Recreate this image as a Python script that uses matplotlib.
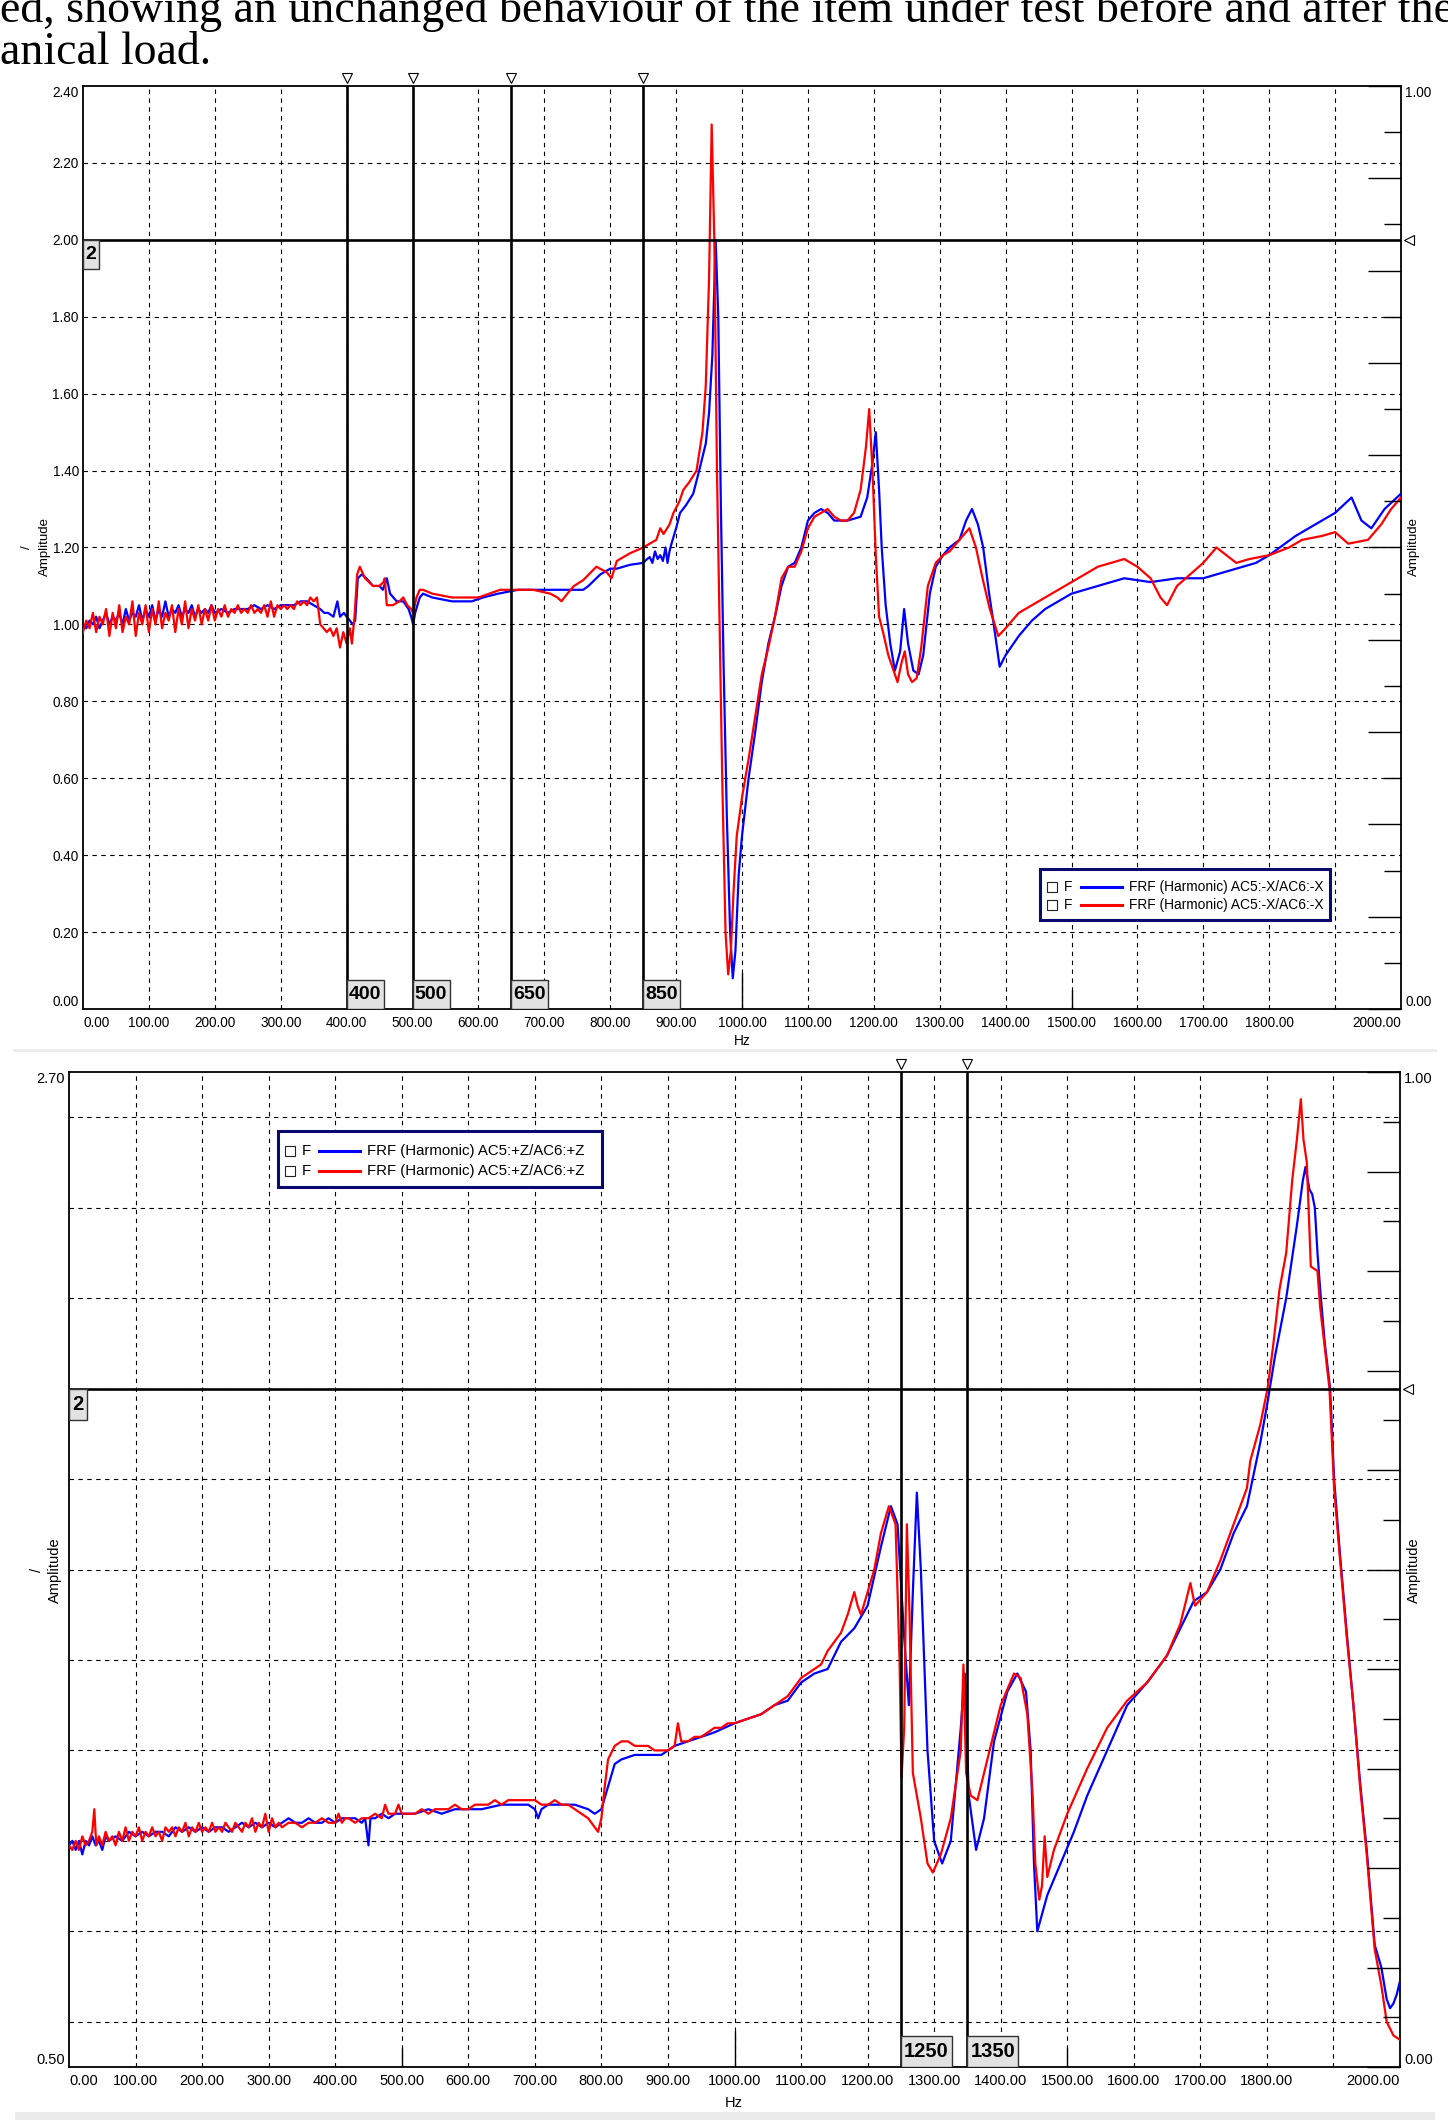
import numpy as np
import matplotlib
matplotlib.use('Agg')
import matplotlib.pyplot as plt
from matplotlib.patches import Rectangle
from matplotlib.lines import Line2D

# (Hz, amplitude)
top_blue = [(0,1.00),(5,.99),(10,1.01),(15,1.00),(20,1.02),(25,.99),(30,1.01),(35,1.03),(40,1.00),(45,1.02),(50,1.01),(55,1.03),(60,1.00),(65,1.04),(70,1.01),(75,1.03),(80,1.02),(85,1.05),(90,1.01),(95,1.04),(100,1.02),(105,1.05),(110,1.01),(115,1.04),(120,1.02),(125,1.06),(130,1.02),(135,1.04),(140,1.03),(145,1.05),(150,1.02),(155,1.04),(160,1.03),(165,1.05),(170,1.02),(175,1.04),(180,1.03),(185,1.04),(190,1.03),(195,1.05),(200,1.03),(210,1.04),(220,1.03),(230,1.04),(240,1.04),(250,1.04),(260,1.05),(270,1.04),(280,1.05),(290,1.04),(300,1.05),(310,1.05),(320,1.05),(330,1.06),(340,1.06),(350,1.05),(360,1.04),(366,1.03),(372,1.03),(380,1.02),(386,1.06),(390,1.02),(396,1.03),(400,1.02),(405,1.01),(409,1.00),(413,1.01),(417,1.12),(423,1.13),(430,1.12),(440,1.10),(450,1.10),(455,1.09),(461,1.12),(466,1.08),(476,1.06),(486,1.06),(494,1.04),(498,1.02),(501,1.00),(504,1.03),(511,1.07),(516,1.08),(530,1.07),(560,1.06),(590,1.06),(607,1.07),(630,1.08),(660,1.09),(690,1.09),(710,1.09),(730,1.09),(759,1.09),(767,1.10),(785,1.13),(800,1.145),(810,1.145),(830,1.155),(850,1.16),(856,1.17),(860,1.175),(864,1.16),(868,1.19),(872,1.17),(876,1.18),(880,1.165),(884,1.20),(887,1.16),(890,1.19),(893,1.21),(900,1.25),(906,1.29),(915,1.31),(926,1.34),(935,1.40),(945,1.47),(950,1.55),(955,1.70),(960,2.00),(964,1.80),(968,1.30),(972,.90),(977,.50),(982,.20),(986,.08),(990,.15),(995,.35),(1000,.45),(1010,.60),(1020,.72),(1030,.85),(1040,.95),(1050,1.02),(1060,1.10),(1070,1.15),(1080,1.16),(1090,1.20),(1100,1.27),(1110,1.29),(1120,1.30),(1130,1.29),(1140,1.27),(1160,1.27),(1180,1.28),(1190,1.33),(1198,1.42),(1203,1.50),(1208,1.35),(1212,1.20),(1218,1.05),(1225,.95),(1232,.88),(1240,.93),(1246,1.04),(1252,.95),(1260,.88),(1268,.87),(1275,.92),(1285,1.08),(1294,1.15),(1305,1.18),(1315,1.20),(1330,1.22),(1340,1.27),(1349,1.30),(1358,1.26),(1366,1.20),(1375,1.08),(1382,1.00),(1391,.89),(1400,.92),(1420,.97),(1440,1.01),(1460,1.04),(1480,1.06),(1500,1.08),(1540,1.10),(1580,1.12),(1620,1.11),(1660,1.12),(1700,1.12),(1740,1.14),(1780,1.16),(1800,1.18),(1840,1.23),(1870,1.26),(1900,1.29),(1925,1.33),(1940,1.27),(1955,1.25),(1975,1.30),(2000,1.34)]

top_red = [(0,.98),(5,1.01),(10,.99),(15,1.03),(20,.98),(25,1.02),(30,1.00),(35,1.04),(40,.97),(45,1.03),(50,.99),(55,1.05),(60,.98),(65,1.02),(70,1.00),(75,1.06),(80,.97),(85,1.03),(90,1.00),(95,1.05),(100,.98),(105,1.04),(110,1.00),(115,1.06),(120,.99),(125,1.03),(130,1.01),(135,1.05),(140,.98),(145,1.04),(150,1.00),(155,1.06),(160,.99),(165,1.04),(170,1.01),(175,1.05),(180,1.00),(185,1.04),(190,1.01),(195,1.05),(200,1.01),(205,1.04),(210,1.02),(215,1.05),(220,1.02),(225,1.04),(230,1.03),(235,1.05),(240,1.03),(245,1.04),(250,1.03),(255,1.05),(260,1.03),(265,1.04),(270,1.03),(275,1.05),(280,1.02),(285,1.06),(290,1.02),(295,1.05),(300,1.04),(305,1.05),(310,1.04),(315,1.05),(320,1.04),(325,1.06),(330,1.05),(335,1.06),(340,1.05),(345,1.07),(350,1.06),(355,1.07),(360,1.00),(365,.99),(370,.98),(375,.99),(380,.97),(385,.99),(390,.94),(395,.98),(400,.95),(405,.99),(408,.95),(412,1.02),(416,1.13),(420,1.15),(428,1.12),(440,1.10),(450,1.10),(456,1.11),(458,1.12),(461,1.05),(470,1.05),(480,1.06),(486,1.07),(492,1.05),(498,1.04),(501,1.03),(506,1.07),(511,1.09),(516,1.09),(530,1.08),(560,1.07),(600,1.07),(633,1.09),(683,1.09),(709,1.08),(720,1.07),(726,1.06),(735,1.08),(745,1.10),(759,1.115),(779,1.15),(790,1.14),(795,1.135),(802,1.12),(810,1.165),(830,1.185),(850,1.20),(870,1.22),(876,1.25),(881,1.235),(890,1.26),(896,1.29),(905,1.32),(911,1.35),(920,1.37),(931,1.40),(940,1.50),(945,1.62),(950,1.90),(954,2.30),(958,2.00),(962,1.40),(966,1.00),(970,.60),(975,.20),(979,.09),(983,.15),(987,.30),(992,.45),(1000,.55),(1010,.65),(1020,.76),(1030,.87),(1040,.94),(1050,1.02),(1060,1.12),(1070,1.15),(1080,1.15),(1090,1.19),(1100,1.25),(1110,1.28),(1120,1.29),(1130,1.30),(1140,1.28),(1150,1.27),(1160,1.27),(1170,1.29),(1180,1.35),(1188,1.46),(1193,1.56),(1198,1.40),(1203,1.18),(1208,1.02),(1214,.98),(1222,.92),(1230,.88),(1236,.85),(1242,.90),(1247,.93),(1252,.87),(1258,.85),(1265,.86),(1272,.94),(1282,1.10),(1294,1.16),(1305,1.18),(1315,1.19),(1325,1.21),(1335,1.23),(1345,1.25),(1355,1.20),(1365,1.12),(1376,1.04),(1389,.97),(1400,.99),(1420,1.03),(1440,1.05),(1460,1.07),(1480,1.09),(1500,1.11),(1520,1.13),(1540,1.15),(1560,1.16),(1580,1.17),(1600,1.15),(1620,1.12),(1635,1.07),(1645,1.05),(1660,1.10),(1680,1.13),(1700,1.16),(1720,1.20),(1735,1.18),(1750,1.16),(1770,1.17),(1800,1.18),(1830,1.20),(1850,1.22),(1880,1.23),(1900,1.24),(1920,1.21),(1950,1.22),(1970,1.26),(1985,1.30),(2000,1.33)]

bot_blue = [(0,.99),(5,1.00),(10,.98),(15,1.00),(20,.97),(25,1.00),(30,.99),(35,1.01),(40,.99),(45,1.00),(50,.98),(55,1.01),(60,1.00),(70,1.01),(80,1.00),(90,1.02),(100,1.01),(110,1.02),(120,1.01),(130,1.02),(140,1.02),(150,1.01),(160,1.03),(170,1.02),(180,1.03),(190,1.02),(200,1.03),(210,1.02),(220,1.03),(230,1.03),(240,1.02),(250,1.03),(260,1.04),(270,1.03),(280,1.04),(290,1.03),(300,1.04),(310,1.03),(320,1.04),(330,1.05),(340,1.04),(350,1.04),(360,1.05),(370,1.04),(380,1.04),(390,1.05),(400,1.04),(410,1.05),(420,1.05),(430,1.05),(440,1.04),(445,1.05),(450,.99),(453,1.05),(460,1.05),(470,1.06),(480,1.05),(490,1.06),(500,1.06),(520,1.06),(540,1.07),(560,1.06),(580,1.07),(600,1.07),(620,1.07),(650,1.08),(670,1.08),(690,1.08),(700,1.07),(705,1.05),(710,1.07),(720,1.08),(740,1.08),(760,1.08),(780,1.07),(790,1.06),(800,1.07),(810,1.12),(820,1.17),(830,1.18),(850,1.19),(870,1.19),(890,1.19),(910,1.21),(930,1.22),(950,1.23),(970,1.24),(1000,1.26),(1020,1.27),(1040,1.28),(1060,1.30),(1080,1.31),(1090,1.33),(1100,1.35),(1120,1.37),(1140,1.38),(1160,1.44),(1180,1.47),(1200,1.52),(1220,1.65),(1235,1.74),(1245,1.70),(1255,1.45),(1262,1.30),(1268,1.55),(1274,1.77),(1280,1.60),(1290,1.20),(1300,1.00),(1312,.95),(1325,1.00),(1340,1.25),(1346,1.37),(1352,1.10),(1363,.98),(1375,1.05),(1390,1.22),(1410,1.33),(1425,1.37),(1438,1.33),(1445,1.20),(1450,.95),(1455,.80),(1470,.88),(1490,.95),(1510,1.02),(1530,1.10),(1560,1.20),(1590,1.30),(1620,1.35),(1650,1.41),(1670,1.47),(1690,1.53),(1710,1.55),(1730,1.60),(1750,1.68),(1770,1.74),(1790,1.88),(1801,1.97),(1812,2.07),(1829,2.20),(1845,2.36),(1854,2.46),(1858,2.49),(1864,2.44),(1868,2.43),(1872,2.40),(1876,2.30),(1880,2.22),(1887,2.10),(1895,2.00),(1901,1.80),(1910,1.63),(1920,1.46),(1930,1.30),(1940,1.13),(1950,.98),(1962,.77),(1972,.72),(1980,.65),(1985,.63),(1990,.64),(1995,.66),(2000,.69)]

bot_red = [(0,.99),(5,.98),(10,1.00),(15,.98),(20,1.01),(25,.99),(30,1.00),(35,1.02),(38,1.07),(41,.99),(45,1.01),(50,.99),(55,1.02),(60,1.00),(65,1.01),(70,.99),(75,1.02),(80,1.00),(85,1.03),(90,1.00),(95,1.02),(100,1.01),(105,1.03),(110,1.00),(115,1.02),(120,1.01),(125,1.03),(130,1.01),(135,1.02),(140,1.00),(145,1.03),(150,1.02),(155,1.03),(160,1.01),(165,1.03),(170,1.02),(175,1.04),(180,1.01),(185,1.03),(190,1.02),(195,1.04),(200,1.02),(205,1.03),(210,1.02),(215,1.04),(220,1.02),(225,1.03),(230,1.02),(235,1.04),(240,1.03),(245,1.02),(250,1.04),(255,1.03),(260,1.02),(265,1.04),(270,1.03),(275,1.05),(280,1.02),(285,1.04),(290,1.03),(295,1.06),(300,1.02),(305,1.05),(310,1.03),(315,1.04),(320,1.03),(330,1.04),(340,1.04),(350,1.03),(360,1.04),(370,1.04),(380,1.05),(390,1.04),(400,1.04),(405,1.06),(410,1.04),(415,1.05),(420,1.05),(430,1.04),(440,1.05),(450,1.05),(460,1.06),(470,1.05),(475,1.08),(480,1.06),(490,1.06),(495,1.08),(500,1.06),(510,1.06),(520,1.06),(530,1.07),(540,1.06),(550,1.07),(560,1.07),(570,1.07),(580,1.08),(590,1.07),(600,1.07),(610,1.08),(620,1.08),(630,1.08),(640,1.09),(650,1.08),(660,1.09),(670,1.09),(680,1.09),(690,1.09),(700,1.09),(710,1.08),(720,1.08),(730,1.09),(740,1.08),(750,1.08),(760,1.07),(770,1.06),(780,1.05),(790,1.03),(795,1.02),(800,1.05),(805,1.12),(810,1.18),(820,1.21),(830,1.22),(840,1.22),(850,1.21),(860,1.21),(870,1.21),(880,1.20),(890,1.20),(900,1.20),(910,1.21),(915,1.26),(920,1.22),(930,1.22),(940,1.23),(950,1.23),(960,1.24),(970,1.25),(980,1.25),(990,1.26),(1000,1.26),(1020,1.27),(1040,1.28),(1060,1.30),(1080,1.32),(1090,1.34),(1100,1.36),(1110,1.37),(1120,1.38),(1130,1.39),(1140,1.42),(1150,1.44),(1160,1.46),(1170,1.50),(1180,1.55),(1185,1.52),(1190,1.50),(1200,1.55),(1210,1.60),(1220,1.68),(1232,1.74),(1242,1.70),(1248,1.40),(1251,1.14),(1255,1.25),(1259,1.70),(1263,1.50),(1268,1.15),(1280,1.05),(1290,.95),(1298,.93),(1310,.97),(1325,1.05),(1335,1.15),(1340,1.20),(1344,1.39),(1348,1.15),(1355,1.10),(1365,1.09),(1380,1.18),(1400,1.30),(1420,1.37),(1430,1.36),(1440,1.28),(1448,1.10),(1452,.95),(1458,.87),(1462,.90),(1466,1.01),(1470,.92),(1480,.98),(1500,1.06),(1530,1.16),(1560,1.25),(1590,1.31),(1620,1.35),(1650,1.41),(1670,1.48),(1685,1.57),(1692,1.52),(1710,1.55),(1730,1.62),(1750,1.70),(1770,1.78),(1775,1.84),(1790,1.92),(1801,2.00),(1809,2.09),(1819,2.22),(1829,2.30),(1838,2.46),(1845,2.55),(1851,2.64),(1855,2.55),(1860,2.50),(1864,2.35),(1866,2.27),(1876,2.26),(1880,2.18),(1887,2.09),(1894,2.00),(1901,1.78),(1910,1.62),(1920,1.45),(1930,1.30),(1940,1.12),(1950,.97),(1962,.76),(1972,.68),(1980,.60),(1990,.57),(2000,.56)]

top_cursors = [400, 500, 650, 850]
bot_cursors = [1250, 1350]
cursor_level = 2.0
top_legend = 'FRF (Harmonic) AC5:-X/AC6:-X'
bot_legend = 'FRF (Harmonic) AC5:+Z/AC6:+Z'
x_ticks = list(range(0, 2001, 100))

plt.rcParams['font.family'] = ['Liberation Sans', 'DejaVu Sans']

W, H = 1448, 2125
fig = plt.figure(figsize=(W / 100, H / 100), dpi=100)


def fx(px):
    return px / W


def fy(py):
    return 1 - py / H


def fig_rect(x0, y0, x1, y1, **kw):
    fig.add_artist(Rectangle((fx(x0), fy(y1)), (x1 - x0) / W, (y1 - y0) / H,
                             transform=fig.transFigure, **kw))


def fig_hline(x0, x1, y, **kw):
    fig.add_artist(Line2D([fx(x0), fx(x1)], [fy(y), fy(y)], transform=fig.transFigure, **kw))


def panel(left, right, top, bottom, ylim, grid_y, ylabels, blue, red, cursors,
          fs, box_w, box_h, lab_box_w, lab_fs):
    ax = fig.add_axes([fx(left), fy(bottom), (right - left) / W, (bottom - top) / H])
    ax.set_xlim(0, 2000)
    ax.set_ylim(*ylim)
    for s in ax.spines.values():
        s.set_linewidth(1.3)
    ppu = (bottom - top) / (ylim[1] - ylim[0])  # pixels per unit

    for g in grid_y:
        ax.axhline(g, color='k', lw=0.8, ls=(0, (4, 4)), zorder=1)
    for g in x_ticks[1:-1]:
        ax.axvline(g, color='k', lw=0.8, ls=(0, (4, 4)), zorder=1)

    b = np.array(blue).T
    r = np.array(red).T
    ax.plot(b[0], b[1], color='#0000ff', lw=1.6, zorder=3)
    ax.plot(r[0], r[1], color='#ff0000', lw=1.6, zorder=3)

    # x ticks
    ax.set_xticks(x_ticks)
    labs = ['%.2f' % v for v in x_ticks]
    labs[-2] = ''
    ax.set_xticklabels(labs, fontsize=fs)
    ax.get_xticklabels()[0].set_ha('left')
    ax.get_xticklabels()[-1].set_ha('right')
    ax.tick_params(axis='x', length=0, pad=5)
    xt = ax.get_xaxis_transform()
    ax.vlines([500, 1500], 0, 19 / (bottom - top), color='k', lw=1, transform=xt, zorder=2)
    ax.vlines([1000], 0, 36 / (bottom - top), color='k', lw=1, transform=xt, zorder=2)

    # y ticks
    yv = [v for v, _ in ylabels]
    ax.set_yticks(yv)
    ax.set_yticklabels([t for _, t in ylabels], fontsize=fs)
    ax.tick_params(axis='y', length=0, pad=3)
    ax.get_yticklabels()[0].set_va('bottom')
    ax.get_yticklabels()[-1].set_va('top')

    # right-hand amplitude scale
    tw = ax.twinx()
    tw.set_ylim(0, 1)
    tw.set_yticks([i / 10 for i in range(11)])
    tw.set_yticklabels(['0.00'] + [''] * 9 + ['1.00'], fontsize=fs)
    tw.set_yticks([i / 20 for i in range(1, 20, 2)], minor=True)
    tw.tick_params(axis='y', which='major', direction='in', length=24, width=1, pad=3)
    tw.tick_params(axis='y', which='minor', direction='in', length=12, width=1)
    tw.get_yticklabels()[0].set_va('bottom')
    tw.get_yticklabels()[-1].set_va('top')
    for s in tw.spines.values():
        s.set_visible(False)

    # cursors
    for c in cursors:
        ax.axvline(c, color='k', lw=1.9, zorder=4)
        ax.plot(c, 1 + 8 / (bottom - top), marker='v', ms=7, mfc='white', mec='k',
                mew=0.8, transform=xt, clip_on=False, zorder=6)
        bw = box_w * 2000 / (right - left)
        ax.add_patch(Rectangle((c, 0), bw, box_h / (bottom - top), transform=xt,
                               facecolor='#e2e2e2', edgecolor='#333333', lw=1, zorder=5))
        ax.text(c + bw / 2, box_h / 2 / (bottom - top), str(c), transform=xt,
                ha='center', va='center', fontsize=lab_fs, fontweight='bold', zorder=6)
    ax.axhline(cursor_level, color='k', lw=1.9, zorder=4)
    yt = ax.get_yaxis_transform()
    ax.add_patch(Rectangle((0, cursor_level - box_h / ppu), lab_box_w / (right - left), box_h / ppu,
                           transform=yt, facecolor='#e2e2e2', edgecolor='#333333', lw=1, zorder=5))
    ax.text(lab_box_w / 2 / (right - left), cursor_level - box_h / 2 / ppu, '2', transform=yt,
            ha='center', va='center', fontsize=lab_fs, fontweight='bold', zorder=6)
    ax.plot(1 + 8 / (right - left), cursor_level, marker='<', ms=7, mfc='white', mec='k',
            mew=0.8, transform=yt, clip_on=False, zorder=6)
    return ax


# heading text from the document page
fig.text(0, fy(22), 'ed, showing an unchanged behaviour of the item under test before and after the',
         family='Liberation Serif', fontsize=33, va='baseline', ha='left')
fig.text(0, fy(64), 'anical load.', family='Liberation Serif', fontsize=33, va='baseline', ha='left')

top_ylabels = [(i / 5, '%.2f' % (i / 5)) for i in range(13)]
panel(83, 1401, 86, 1009, (0, 2.4), [i / 5 for i in range(1, 12)], top_ylabels,
      top_blue, top_red, top_cursors, 9.8, 37, 29, 16, 14)
panel(69, 1400, 1072, 2067, (0.5, 2.7), [0.6 + i / 5 for i in range(11)],
      [(0.5, '0.50'), (2.7, '2.70')],
      bot_blue, bot_red, bot_cursors, 10.5, 51, 31, 18, 14.5)

# axis titles
for x, y, f in [(742, 1041, 9.8), (734, 2103, 10.5)]:
    fig.text(fx(x), fy(y), 'Hz', ha='center', va='center', fontsize=f)
for x, y, f in [(45, 547, 9.5), (55, 1570, 10.5)]:
    fig.text(fx(x), fy(y), 'Amplitude', rotation=90, ha='center', va='center', fontsize=f)
    fig.text(fx(x - 18), fy(y), '/', rotation=90, ha='center', va='center', fontsize=f)
for x, y, f in [(1414, 547, 9.5), (1414, 1570, 10.5)]:
    fig.text(fx(x), fy(y), 'Amplitude', rotation=90, ha='center', va='center', fontsize=f)

# legends
for (x0, y0, x1, y1), rows, name, f in [((1040, 869, 1330, 920), (887, 905), top_legend, 9.9),
                                        ((278, 1131, 602, 1187), (1151, 1171), bot_legend, 10.8)]:
    fig_rect(x0, y0, x1, y1, facecolor='white', edgecolor='#0a0a6e', lw=2.2, zorder=10)
    for ry, col in zip(rows, ['#0000ff', '#ff0000']):
        fig_rect(x0 + 7, ry - 5, x0 + 17, ry + 5, facecolor='white', edgecolor='#222222', lw=0.8, zorder=11)
        fig.text(fx(x0 + 24), fy(ry), 'F', ha='left', va='center', fontsize=f, zorder=11)
        fig_hline(x0 + 41, x0 + 82, ry, color=col, lw=2.2, zorder=11)
        fig.text(fx(x0 + 89), fy(ry), name, ha='left', va='center', fontsize=f, zorder=11)

# screenshot separators
fig_rect(13, 1049, 1437, 1052, facecolor='#ececec', edgecolor='none')
fig_rect(15, 2112, 1435, 2120, facecolor='#ececec', edgecolor='none')

fig.savefig('out.png', dpi=100)
